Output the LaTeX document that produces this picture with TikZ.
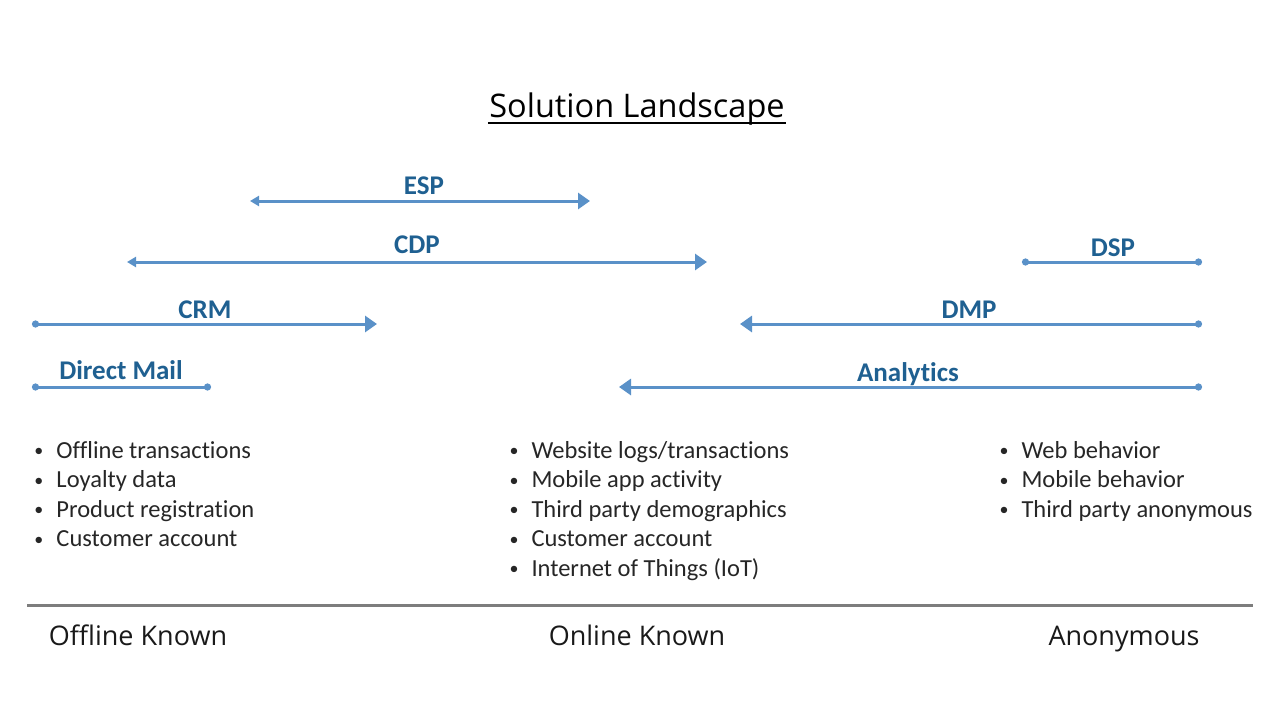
\documentclass[tikz,border=0pt]{standalone}
\usepackage{fontspec}
\setmainfont{Carlito}[Ligatures={NoCommon}]
\newfontfamily\headfont{Open Sans}
\usetikzlibrary{arrows.meta}

\definecolor{lineblue}{RGB}{90,145,200}
\definecolor{labelblue}{RGB}{31,96,145}
\definecolor{rulegray}{RGB}{125,125,125}

\tikzset{
every picture/.style={
line width=3pt
}}

\begin{document}
\begin{tikzpicture}[x=1pt,y=-1pt,
  span/.style={draw=lineblue, line width=3pt},
  big/.tip={Triangle[length=12pt,width=16pt]},
  small/.tip={Triangle[length=9pt,width=10pt]},
  dot/.tip={Circle[length=7pt]},
  lab/.style={anchor=base, inner sep=0pt, text=labelblue, font=\fontsize{27}{32}\selectfont\bfseries},
  item/.style={anchor=base west, inner sep=0pt, text=black!85, font=\fontsize{24.5}{29.5}\selectfont},
  zone/.style={anchor=base, inner sep=0pt, text=black!90, font=\headfont\fontsize{27}{32}\selectfont}
]
\useasboundingbox (0,0) rectangle (1280,720);

% title
\node [anchor=base, inner sep=0pt, font=\headfont\fontsize{32.5}{38}\selectfont] (title) at (637,117) {Solution Landscape};
\draw [line width=2.5pt] ([yshift=-6pt]title.base west) -- ([yshift=-6pt]title.base east);

% solution spans
\node [lab] (esp) at (424,194) {ESP};
\node [lab] (cdp) at (417,253) {CDP};
\node [lab] (crm) at (205,318) {CRM};
\node [lab] (mail) at (121,379) {Direct Mail};
\node [lab] (dsp) at (1113,256) {DSP};
\node [lab] (dmp) at (969,318) {DMP};
\node [lab] (ana) at (908,381) {Analytics};

\coordinate (espL) at (250,201);  \coordinate (espR) at (590,201);
\coordinate (cdpL) at (127,262);  \coordinate (cdpR) at (707,262);
\coordinate (crmL) at (32,324);   \coordinate (crmR) at (377,324);
\coordinate (mailL) at (32,387);  \coordinate (mailR) at (211,387);
\coordinate (dspL) at (1022,262); \coordinate (dspR) at (1202,262);
\coordinate (dmpL) at (740,324);  \coordinate (dmpR) at (1202,324);
\coordinate (anaL) at (619,387);  \coordinate (anaR) at (1202,387);

\draw [span, {small}-{big}] (espL) -- (espR);
\draw [span, {small}-{big}] (cdpL) -- (cdpR);
\draw [span, {dot}-{big}] (crmL) -- (crmR);
\draw [span, {dot}-{dot}] (mailL) -- (mailR);
\draw [span, {dot}-{dot}] (dspL) -- (dspR);
\draw [span, {big}-{dot}] (dmpL) -- (dmpR);
\draw [span, {big}-{dot}] (anaL) -- (anaR);

% data sources
\newcommand\blt{\makebox[23pt][l]{\hspace{1pt}\raisebox{1.5pt}{\fontsize{18}{18}\selectfont\textbullet}}}
\foreach \t [count=\i] in {Offline transactions, Loyalty data, Product registration, Customer account}
  \node [item] (off\i) at (32,{458+29.5*(\i-1)}) {\blt\t};
\foreach \t [count=\i] in {Website logs/transactions, Mobile app activity, Third party demographics, Customer account, Internet of Things (IoT)}
  \node [item] (on\i) at (507,{458+29.5*(\i-1)}) {\blt\t};
\foreach \t [count=\i] in {Web behavior, Mobile behavior, Third party anonymous}
  \node [item] (anon\i) at (997,{458+29.5*(\i-1)}) {\blt\t};

% axis
\coordinate (ruleL) at (27,605);
\coordinate (ruleR) at (1253,605);
\draw [rulegray, line width=3pt] (ruleL) -- (ruleR);

\node [zone] (offline) at (138,645) {Offline Known};
\node [zone] (online) at (637,645) {Online Known};
\node [zone] (anon) at (1124,645) {Anonymous};

\end{tikzpicture}
\end{document}
